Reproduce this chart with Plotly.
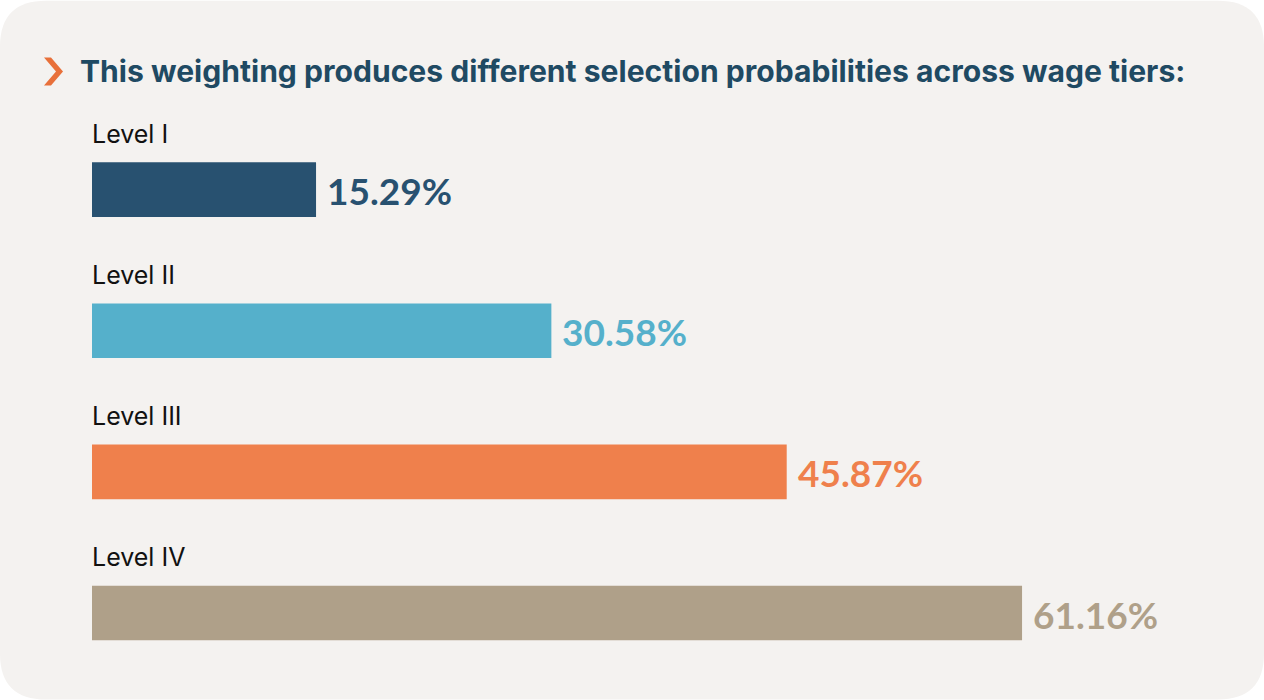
import plotly.graph_objects as go

levels = ["Level I", "Level II", "Level III", "Level IV"]
values = [15.29, 30.58, 45.87, 61.16]
colors = ["#285170", "#55b0cb", "#ef804c", "#afa089"]
title_text = "This weighting produces different selection probabilities across wage tiers:"

W, H = 1264, 700
ML, MR, MT, MB = 92, 0, 118.5, 13.5
PW, PH = W - ML - MR, H - MT - MB
card = "#f4f2f0"

def pxx(x):
    return (x - ML) / PW

def pxy(y):
    return 1 - (y - MT) / PH

def px(x, y):
    return f"{pxx(x):.5f},{pxy(y):.5f}"

r = 46
card_path = (
    f"M {px(r,0)} L {px(W-r,0)} Q {px(W,0)} {px(W,r)} "
    f"L {px(W,H-r)} Q {px(W,H)} {px(W-r,H)} "
    f"L {px(r,H)} Q {px(0,H)} {px(0,H-r)} "
    f"L {px(0,r)} Q {px(0,0)} {px(r,0)} Z"
)
chev = [(44, 57), (51, 57), (63, 71), (51, 85), (44, 85), (56, 71)]
chev_path = "M " + " L ".join(px(x, y) for x, y in chev) + " Z"

fig = go.Figure(go.Bar(
    x=values, y=levels, orientation="h",
    marker=dict(color=colors, line=dict(width=0)),
    width=0.387, base=0, hoverinfo="skip",
))

ann = []
for lv, v, c in zip(levels, values, colors):
    ann.append(dict(x=0.734, y=lv, xref="x", yref="y", text=lv, showarrow=False,
                    xanchor="left", yanchor="middle", yshift=56, xshift=-2,
                    font=dict(family="Inter", size=25, color="#111111")))
    ann.append(dict(x=v, y=lv, xref="x", yref="y", text=f"{v:.2f}%", showarrow=False,
                    xanchor="left", yanchor="middle", xshift=9, yshift=-1,
                    font=dict(family="Lato", size=37, color=c, weight=700)))
ann.append(dict(x=pxx(78), y=pxy(70), xref="paper", yref="paper", text=title_text,
                showarrow=False, xanchor="left", yanchor="middle",
                font=dict(family="Inter", size=30.1, color="#1f4a63", weight=700)))

fig.update_layout(
    width=W, height=H,
    margin=dict(l=ML, r=MR, t=MT, b=MB),
    paper_bgcolor="#ffffff", plot_bgcolor="rgba(0,0,0,0)",
    showlegend=False,
    xaxis=dict(range=[0.734, 76.88], visible=False, fixedrange=True),
    yaxis=dict(autorange="reversed", visible=False, fixedrange=True),
    shapes=[
        dict(type="path", path=card_path, xref="paper", yref="paper",
             fillcolor=card, line=dict(width=0), layer="below"),
        dict(type="path", path=chev_path, xref="paper", yref="paper",
             fillcolor="#e8703a", line=dict(width=0), layer="above"),
    ],
    annotations=ann,
)

fig.write_html("out.html", config={"displayModeBar": False})
